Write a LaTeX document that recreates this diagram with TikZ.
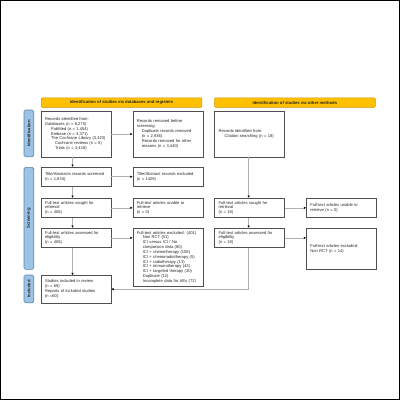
\documentclass[tikz,border=0pt]{standalone}
\usepackage{fontspec}
\setmainfont{Liberation Sans}
\usetikzlibrary{arrows.meta}
\definecolor{hdrfill}{HTML}{FFC000}
\definecolor{hdrline}{HTML}{C99700}
\definecolor{sidefill}{HTML}{9DC3E6}
\definecolor{sideline}{HTML}{5B7FA6}
\definecolor{conngray}{HTML}{AFAFAF}
\definecolor{boxline}{HTML}{505050}
\begin{document}
\begin{tikzpicture}[x=1pt,y=-1pt,
  every node/.style={font=\fontsize{4.1}{4.85}\selectfont, text=black!85},
  pbox/.style={draw=boxline, line width=0.7pt, fill=white, anchor=north west, align=left, inner xsep=4pt, inner ysep=0pt, text width=62pt},
  hdrbox/.style={draw=hdrline, fill=hdrfill, line width=0.5pt, rounded corners=1pt, anchor=north west, minimum width=160.7pt, minimum height=9.5pt, inner sep=0pt, font=\fontsize{4.2}{4.85}\selectfont\bfseries},
  sidebar/.style={draw=sideline, fill=sidefill, line width=0.6pt, rounded corners=1.5pt, rotate=90, minimum height=9.7pt, inner sep=0pt, font=\fontsize{4.2}{4.85}\selectfont\bfseries},
  conn/.style={draw=conngray, line width=0.7pt, -{Triangle[length=2.2pt,width=2.2pt,color=black]}}
]
\useasboundingbox (0,0) rectangle (400,400);
\draw[black, line width=1pt] (0.5,0.5) rectangle (399.5,399.5);

% headers
\node[hdrbox] (h1) at (41,97.5) {Identification of studies via databases and registers};
\node[hdrbox] (h2) at (214.3,97.5) {Identification of studies via other methods};

% side bars
\node[sidebar, minimum width=46.7pt] (s1) at (28.85,133.35) {Identification};
\node[sidebar, minimum width=102pt] (s2) at (28.85,218.3) {Screening};
\node[sidebar, minimum width=27.7pt] (s3) at (28.85,288.85) {Included};

% left column
\node[pbox, minimum height=46pt] (rid) at (40.7,110.7) {Records identified from:\\
Databases (n = 8,270)\\
\hspace*{6pt}PubMed (n = 1,454)\\
\hspace*{6pt}Embase (n = 3,371)\\
\hspace*{6pt}The Cochrane Library (3,423)\\
\hspace*{10pt}Cochrane reviews (n = 5)\\
\hspace*{10pt}Trials (n = 3,418)};
\node[pbox, minimum height=19.3pt] (tas) at (40.7,166.7) {Title/Abstracts records screened\\(n = 1,834)};
\node[pbox, minimum height=19.6pt] (fts) at (40.7,197.7) {Full-text articles sought for\\retrieval\\(n = 406)};
\node[pbox, minimum height=19.6pt] (fta) at (40.7,227.7) {Full-text articles assessed for\\eligibility\\(n = 406)};
\node[pbox, minimum height=27.7pt] (inc) at (40.7,275) {Studies included in review\\(n = 69)\\Reports of included studies\\(n =60)};

% second column
\node[pbox, minimum height=46pt] (rrem) at (132.5,110.7) {Records removed before\\screening:\\
\hspace*{5pt}Duplicate records removed\\
\hspace*{5pt}(n = 2,936)\\
\hspace*{5pt}Records removed for other\\
\hspace*{5pt}reasons (n = 3,440)};
\node[pbox, minimum height=19.3pt] (tex) at (132.5,166.7) {Title/Abstract records excluded\\(n = 1428)};
\node[pbox, minimum height=19.6pt] (fun) at (132.5,197.7) {Full-text articles unable to\\retrieve\\(n = 0)};
\node[pbox, minimum height=58.3pt] (fex) at (132.5,227.7) {Full-text articles excluded: (401)\\
\hspace*{6pt}Non RCT (51)\\
\hspace*{6pt}ICI versus ICI / No\\
\hspace*{6pt}comparison data (80)\\
\hspace*{6pt}ICI + chemotherapy (158)\\
\hspace*{6pt}ICI + chemoradiotherapy (5)\\
\hspace*{6pt}ICI + radiotherapy (13)\\
\hspace*{6pt}ICI + immunotherapy (43)\\
\hspace*{6pt}ICI + targeted therapy (30)\\
\hspace*{6pt}Duplicate (12)\\
\hspace*{6pt}Incomplete data for AEs (72)};

% third column
\node[pbox, minimum height=46pt] (rcit) at (214.3,110.7) {Records identified from:\\\hspace*{6pt}Citation searching (n = 18)\\[3pt]};
\node[pbox, minimum height=19.6pt] (rfts) at (214.3,197.7) {Full-text articles sought for\\retrieval\\(n = 18)};
\node[pbox, minimum height=19.6pt] (rfta) at (214.3,227.7) {Full-text articles assessed for\\eligibility\\(n = 18)};

% fourth column
\node[pbox, minimum height=19.6pt] (rfun) at (306,197.7) {Full-text articles unable to\\retrieve (n = 0)};
\node[pbox, minimum height=41.6pt] (rfex) at (306,227.7) {Full-text articles excluded:\\Non RCT (n = 14)};

% connectors left
\draw[conn] ([xshift=-3.5pt]rid.south) -- ([xshift=-3.5pt]tas.north);
\draw[conn] ([xshift=-3.5pt]tas.south) -- ([xshift=-3.5pt]fts.north);
\draw[conn] ([xshift=-3.5pt]fts.south) -- ([xshift=-3.5pt]fta.north);
\draw[conn] ([xshift=-3.5pt]fta.south) -- ([xshift=-3.5pt]inc.north);
\draw[conn] (rid.east) -- (rrem.west);
\draw[conn] (tas.east) -- (tex.west);
\draw[conn] (fts.east) -- (fun.west);
\draw[conn] (fta.east) -- (fta.east -| fex.west);

% connectors right
\draw[conn] ([xshift=-1pt]rcit.south) -- ([xshift=-1pt]rfts.north);
\draw[conn] ([xshift=-1pt]rfts.south) -- ([xshift=-1pt]rfta.north);
\draw[conn] ([xshift=-1pt]rfta.south) |- (inc.east);
\draw[conn] (rfts.east) -- (rfun.west);
\draw[conn] (rfta.east) -- (rfta.east -| rfex.west);
\end{tikzpicture}
\end{document}
